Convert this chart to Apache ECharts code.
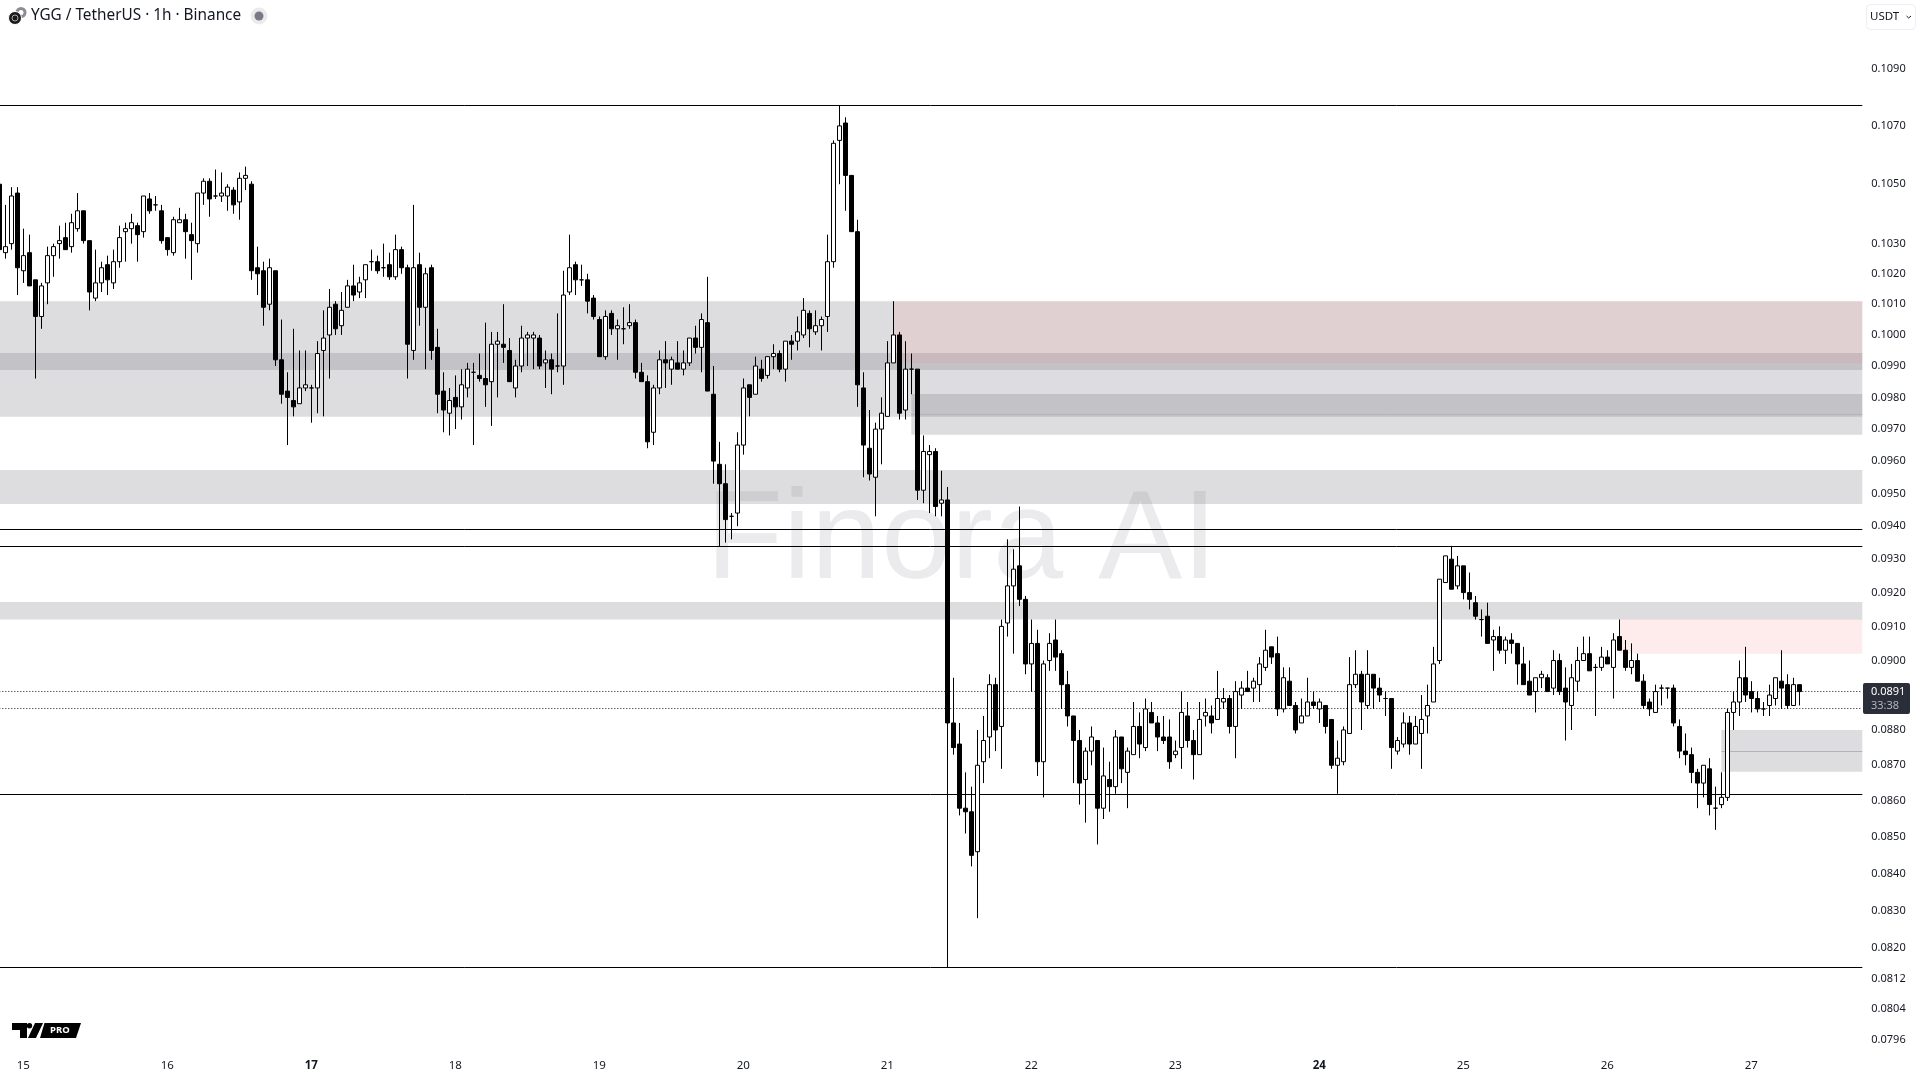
<!DOCTYPE html>
<html><head><meta charset="utf-8"><style>html,body{margin:0;padding:0;background:#fff}#c{width:1920px;height:1080px}</style>
<script src="https://cdn.jsdelivr.net/npm/echarts@6/dist/echarts.min.js"></script></head><body><div id="c"></div>
<script>
const dayLabels = ['15','16','17','18','19','20','21','22','23','24','25','26','27'];
const boldDays = ['17','24'];
const firstDayIndex = 4, candlesPerDay = 24, slotCount = 311;
const priceTicks = [0.1090,0.1070,0.1050,0.1030,0.1020,0.1010,0.1000,0.0990,0.0980,0.0970,0.0960,0.0950,0.0940,0.0930,0.0920,0.0910,0.0900,0.0880,0.0870,0.0860,0.0850,0.0840,0.0830,0.0820,0.0812,0.0804,0.0796];
const opens = [
0.1050,0.1027,0.1030,0.1047,0.1021,0.1027,0.1018,0.1006,0.1017,0.1026,
0.1030,0.1032,0.1029,0.1035,0.1041,0.1031,0.1012,0.1017,0.1023,0.1017,
0.1024,0.1034,0.1035,0.1036,0.1034,0.1045,0.1043,0.1041,0.1032,0.1027,
0.1037,0.1038,0.1033,0.1030,0.1047,0.1051,0.1046,0.1046,0.1046,0.1048,
0.1044,0.1052,0.1050,0.1022,0.1021,0.1010,0.1021,0.0992,0.0982,0.0979,
0.0978,0.0983,0.0983,0.0983,0.0995,0.1000,0.1010,0.1003,0.1009,0.1016,
0.1014,0.1018,0.1024,0.1024,0.1022,0.1023,0.1019,0.1028,0.1022,0.0995,
0.1023,0.1009,0.1022,0.0996,0.0982,0.0975,0.0980,0.0977,0.0983,0.0988,
0.0987,0.0986,0.0985,0.0997,0.0997,0.0995,0.0983,0.0990,0.0999,0.0999,
0.0999,0.0991,0.0992,0.0990,0.0990,0.1014,0.1023,0.1018,0.1018,0.1012,
0.1005,0.0993,0.1007,0.1002,0.1002,0.1003,0.1004,0.0988,0.0985,0.0969,
0.0983,0.0992,0.0989,0.0991,0.0989,0.0991,0.0999,0.0996,0.1004,0.0981,
0.0959,0.0953,0.0943,0.0944,0.0965,0.0984,0.0981,0.0989,0.0987,0.0993,
0.0994,0.0989,0.0998,0.0998,0.1000,0.1007,0.1001,0.1003,0.1006,0.1024,
0.1065,0.1071,0.1053,0.1034,0.0983,0.0964,0.0955,0.0970,0.0974,0.0991,
0.1000,0.0976,0.0989,0.0989,0.0951,0.0962,0.0963,0.0947,0.0948,0.0882,
0.0876,0.0858,0.0857,0.0846,0.0871,0.0878,0.0893,0.0881,0.0911,0.0922,
0.0928,0.0918,0.0899,0.0905,0.0871,0.0900,0.0906,0.0902,0.0893,0.0884,
0.0877,0.0866,0.0874,0.0877,0.0858,0.0866,0.0864,0.0878,0.0868,0.0873,
0.0881,0.0875,0.0885,0.0882,0.0878,0.0878,0.0873,0.0875,0.0884,0.0877,
0.0873,0.0884,0.0884,0.0883,0.0888,0.0889,0.0881,0.0890,0.0892,0.0892,
0.0893,0.0898,0.0904,0.0902,0.0886,0.0894,0.0887,0.0882,0.0884,0.0888,
0.0886,0.0887,0.0883,0.0870,0.0871,0.0879,0.0893,0.0896,0.0887,0.0896,
0.0892,0.0889,0.0889,0.0874,0.0876,0.0882,0.0876,0.0879,0.0884,0.0888,
0.0900,0.0923,0.0930,0.0922,0.0928,0.0920,0.0917,0.0912,0.0913,0.0906,
0.0907,0.0903,0.0906,0.0905,0.0899,0.0894,0.0891,0.0895,0.0895,0.0892,
0.0900,0.0892,0.0887,0.0894,0.0900,0.0902,0.0898,0.0898,0.0901,0.0898,
0.0907,0.0903,0.0898,0.0900,0.0894,0.0888,0.0885,0.0892,0.0892,0.0892,
0.0881,0.0874,0.0873,0.0868,0.0865,0.0869,0.0858,0.0859,0.0861,0.0885,
0.0888,0.0895,0.0891,0.0889,0.0886,0.0887,0.0889,0.0894,0.0893,0.0887,0.0893];
const closes = [
0.1028,0.1029,0.1046,0.1022,0.1026,0.1016,0.1006,0.1016,0.1026,0.1029,
0.1031,0.1028,0.1037,0.1041,0.1031,0.1014,0.1017,0.1022,0.1018,0.1024,
0.1032,0.1035,0.1037,0.1033,0.1046,0.1041,0.1043,0.1031,0.1028,0.1038,
0.1038,0.1034,0.1031,0.1047,0.1051,0.1045,0.1046,0.1047,0.1049,0.1043,
0.1052,0.1053,0.1021,0.1020,0.1009,0.1022,0.0992,0.0981,0.0980,0.0977,
0.0983,0.0984,0.0983,0.0994,0.0999,0.1009,0.1002,0.1008,0.1016,0.1013,
0.1017,0.1023,0.1024,0.1021,0.1022,0.1019,0.1028,0.1022,0.0997,0.1022,
0.1009,0.1020,0.0995,0.0981,0.0976,0.0979,0.0977,0.0984,0.0989,0.0988,
0.0986,0.0984,0.0997,0.0998,0.0996,0.0985,0.0990,0.0999,0.1000,0.1000,
0.0990,0.0992,0.0989,0.0990,0.1013,0.1022,0.1018,0.1018,0.1011,0.1006,
0.0993,0.1006,0.1002,0.1003,0.1002,0.1004,0.0988,0.0985,0.0966,0.0983,
0.0992,0.0991,0.0992,0.0989,0.0991,0.0999,0.0996,0.1005,0.0982,0.0960,
0.0953,0.0942,0.0943,0.0965,0.0983,0.0980,0.0990,0.0986,0.0993,0.0994,
0.0989,0.0998,0.0997,0.1001,0.1008,0.1002,0.1003,0.1005,0.1024,0.1064,
0.1070,0.1053,0.1034,0.0984,0.0965,0.0956,0.0970,0.0975,0.0991,0.1000,
0.0975,0.0989,0.0989,0.0951,0.0963,0.0963,0.0946,0.0948,0.0882,0.0875,
0.0858,0.0857,0.0845,0.0870,0.0877,0.0893,0.0880,0.0910,0.0922,0.0927,
0.0918,0.0899,0.0905,0.0871,0.0899,0.0905,0.0901,0.0893,0.0884,0.0877,
0.0865,0.0874,0.0878,0.0858,0.0867,0.0864,0.0878,0.0869,0.0874,0.0881,
0.0876,0.0886,0.0882,0.0878,0.0877,0.0871,0.0874,0.0885,0.0877,0.0873,
0.0883,0.0885,0.0882,0.0889,0.0889,0.0881,0.0891,0.0892,0.0891,0.0894,
0.0899,0.0903,0.0901,0.0886,0.0895,0.0887,0.0880,0.0884,0.0888,0.0887,
0.0888,0.0881,0.0870,0.0872,0.0880,0.0893,0.0896,0.0888,0.0896,0.0892,
0.0890,0.0889,0.0875,0.0877,0.0882,0.0876,0.0881,0.0883,0.0887,0.0899,
0.0924,0.0931,0.0921,0.0928,0.0920,0.0918,0.0913,0.0912,0.0905,0.0907,
0.0903,0.0906,0.0905,0.0899,0.0893,0.0890,0.0895,0.0896,0.0891,0.0900,
0.0891,0.0888,0.0895,0.0900,0.0902,0.0897,0.0898,0.0901,0.0899,0.0906,
0.0903,0.0898,0.0900,0.0894,0.0887,0.0886,0.0891,0.0892,0.0892,0.0882,
0.0874,0.0873,0.0868,0.0865,0.0870,0.0859,0.0858,0.0861,0.0885,0.0888,
0.0895,0.0890,0.0889,0.0886,0.0886,0.0890,0.0895,0.0892,0.0887,0.0893,0.0891];
const lows = [
0.1026,0.1025,0.1028,0.1013,0.1017,0.1016,0.0986,0.1002,0.1010,0.1019,
0.1025,0.1028,0.1027,0.1034,0.1030,0.1008,0.1011,0.1014,0.1013,0.1015,
0.1022,0.1024,0.1030,0.1024,0.1032,0.1040,0.1041,0.1030,0.1026,0.1026,
0.1037,0.1025,0.1018,0.1027,0.1043,0.1039,0.1045,0.1044,0.1041,0.1040,
0.1038,0.1048,0.1018,0.1013,0.1003,0.1008,0.0990,0.0978,0.0965,0.0974,
0.0978,0.0982,0.0972,0.0975,0.0974,0.0986,0.1000,0.1000,0.1009,0.1011,
0.1012,0.1012,0.1021,0.1020,0.1019,0.1018,0.1018,0.1020,0.0986,0.0992,
0.1003,0.0989,0.0992,0.0975,0.0969,0.0968,0.0970,0.0973,0.0980,0.0965,
0.0985,0.0977,0.0971,0.0980,0.0991,0.0985,0.0980,0.0988,0.0990,0.0989,
0.0989,0.0983,0.0981,0.0988,0.0984,0.1013,0.1013,0.1016,0.1007,0.1005,
0.0993,0.0992,0.1000,0.0992,0.0997,0.1002,0.0986,0.0985,0.0964,0.0965,
0.0981,0.0983,0.0984,0.0989,0.0987,0.0990,0.0994,0.0988,0.0982,0.0953,
0.0934,0.0935,0.0936,0.0940,0.0962,0.0974,0.0981,0.0985,0.0986,0.0989,
0.0988,0.0985,0.0992,0.0995,0.0999,0.0996,0.1000,0.0995,0.1001,0.1022,
0.1050,0.1041,0.1034,0.0977,0.0955,0.0954,0.0943,0.0959,0.0974,0.0991,
0.0973,0.0973,0.0981,0.0948,0.0947,0.0944,0.0943,0.0943,0.0815,0.0873,
0.0856,0.0851,0.0842,0.0828,0.0865,0.0872,0.0874,0.0869,0.0907,0.0902,
0.0916,0.0896,0.0891,0.0867,0.0861,0.0897,0.0897,0.0886,0.0881,0.0865,
0.0859,0.0854,0.0870,0.0848,0.0855,0.0857,0.0862,0.0865,0.0858,0.0873,
0.0872,0.0874,0.0882,0.0874,0.0876,0.0869,0.0872,0.0869,0.0875,0.0866,
0.0873,0.0881,0.0879,0.0883,0.0886,0.0879,0.0872,0.0886,0.0891,0.0888,
0.0888,0.0897,0.0899,0.0884,0.0885,0.0887,0.0879,0.0882,0.0884,0.0886,
0.0882,0.0879,0.0869,0.0862,0.0870,0.0879,0.0892,0.0880,0.0886,0.0886,
0.0888,0.0884,0.0869,0.0873,0.0875,0.0873,0.0876,0.0869,0.0879,0.0888,
0.0899,0.0923,0.0921,0.0921,0.0918,0.0915,0.0912,0.0907,0.0905,0.0897,
0.0902,0.0899,0.0902,0.0893,0.0893,0.0890,0.0885,0.0892,0.0891,0.0890,
0.0890,0.0877,0.0880,0.0891,0.0900,0.0897,0.0884,0.0897,0.0899,0.0889,
0.0903,0.0897,0.0896,0.0894,0.0886,0.0884,0.0885,0.0887,0.0889,0.0881,
0.0872,0.0870,0.0865,0.0858,0.0861,0.0856,0.0852,0.0858,0.0860,0.0880,
0.0884,0.0888,0.0885,0.0885,0.0884,0.0884,0.0887,0.0886,0.0886,0.0887,0.0887];
const highs = [
0.1051,0.1043,0.1049,0.1049,0.1035,0.1033,0.1018,0.1017,0.1029,0.1030,
0.1036,0.1037,0.1040,0.1047,0.1041,0.1031,0.1028,0.1024,0.1026,0.1028,
0.1036,0.1037,0.1040,0.1037,0.1046,0.1047,0.1046,0.1043,0.1032,0.1039,
0.1042,0.1040,0.1037,0.1047,0.1052,0.1052,0.1055,0.1054,0.1050,0.1049,
0.1054,0.1056,0.1051,0.1029,0.1024,0.1025,0.1021,0.1005,0.0988,0.1002,
0.0995,0.0995,0.0984,0.0998,0.1008,0.1015,0.1011,0.1014,0.1018,0.1023,
0.1019,0.1023,0.1028,0.1026,0.1030,0.1027,0.1033,0.1029,0.1023,0.1043,
0.1027,0.1022,0.1023,0.1002,0.0988,0.0983,0.0987,0.0989,0.0991,0.0991,
0.0994,0.1004,0.1001,0.1001,0.1010,0.0999,0.0992,0.1003,0.1001,0.1001,
0.1000,0.0995,0.0994,0.1007,0.1021,0.1033,0.1024,0.1023,0.1020,0.1013,
0.1006,0.1008,0.1008,0.1005,0.1009,0.1010,0.1005,0.0991,0.0987,0.0984,
0.0995,0.0998,0.0993,0.0998,0.0995,0.0999,0.1003,0.1007,0.1019,0.0990,
0.0966,0.0959,0.0944,0.0969,0.0986,0.0984,0.0993,0.0992,0.0993,0.0997,
0.0995,0.0998,0.1000,0.1006,0.1012,0.1008,0.1008,0.1006,0.1033,0.1065,
0.1077,0.1073,0.1053,0.1038,0.0988,0.0976,0.0972,0.0980,0.0998,0.1011,
0.1001,0.0998,0.0994,0.0989,0.0968,0.0965,0.0964,0.0957,0.0952,0.0895,
0.0882,0.0868,0.0864,0.0880,0.0884,0.0896,0.0895,0.0912,0.0936,0.0933,
0.0946,0.0919,0.0912,0.0909,0.0900,0.0908,0.0912,0.0903,0.0897,0.0884,
0.0880,0.0875,0.0881,0.0877,0.0875,0.0871,0.0880,0.0878,0.0875,0.0888,
0.0885,0.0889,0.0888,0.0884,0.0884,0.0883,0.0877,0.0891,0.0888,0.0880,
0.0888,0.0889,0.0887,0.0897,0.0892,0.0890,0.0894,0.0894,0.0897,0.0895,
0.0901,0.0909,0.0904,0.0907,0.0898,0.0898,0.0888,0.0889,0.0895,0.0891,
0.0889,0.0887,0.0883,0.0877,0.0881,0.0901,0.0903,0.0897,0.0903,0.0896,
0.0895,0.0891,0.0889,0.0878,0.0885,0.0884,0.0884,0.0890,0.0893,0.0904,
0.0924,0.0931,0.0934,0.0931,0.0928,0.0926,0.0919,0.0915,0.0917,0.0909,
0.0910,0.0907,0.0908,0.0905,0.0904,0.0900,0.0895,0.0897,0.0896,0.0903,
0.0902,0.0898,0.0899,0.0904,0.0907,0.0907,0.0899,0.0904,0.0903,0.0908,
0.0912,0.0906,0.0905,0.0902,0.0896,0.0889,0.0893,0.0893,0.0892,0.0893,
0.0883,0.0879,0.0875,0.0869,0.0870,0.0872,0.0864,0.0868,0.0886,0.0891,
0.0900,0.0904,0.0894,0.0891,0.0888,0.0893,0.0895,0.0903,0.0896,0.0895,0.0893];
const solidLevels = [0.10772,0.09391,0.09339,0.08618,0.0815];
const dottedLevels = [0.08911,0.0886];
// [top, bottom] price, optional first slot
const greyZones = [[0.1011,0.09739,null],[0.09942,0.09887,null],[0.09811,0.09682,152],[0.09572,0.09468,null],[0.09172,0.0912,null],[0.088,0.08682,287]];
const upperRedZone = [0.1011,0.09909,149];
const lowerRedZone = [0.09121,0.0902,270];
const midLevels = [[0.09746,152],[0.08739,287]];

const categories = Array.from({length: slotCount}, (_, i) => {
  const k = i - firstDayIndex;
  return k >= 0 && k % candlesPerDay === 0 ? (dayLabels[k / candlesPerDay] || '') : '';
});
const candles = opens.map((o, i) => [o, closes[i], lows[i], highs[i]]);
const zone = (z, color) => {
  const st = {itemStyle: {color}};
  return z[2] === null ? [{yAxis: z[0], ...st}, {yAxis: z[1]}] : [{xAxis: z[2], yAxis: z[0], ...st}, {yAxis: z[1]}];
};
const lineStyles = {
  solid: {stroke: '#000000', lineWidth: 1},
  dotted: {stroke: '#131722', lineWidth: 1, lineDash: [1, 2]},
  mid: {stroke: '#b4b2ba', lineWidth: 1}
};
const levelRows = solidLevels.map(v => [0, v, 'solid'])
  .concat(dottedLevels.map(v => [0, v, 'dotted']))
  .concat(midLevels.map(m => [m[1], m[0], 'mid']));
const FONT = '"Noto Sans", sans-serif';
const chart = echarts.init(document.getElementById('c'), null, {renderer: 'canvas'});
const poly = (points, fill) => ({type: 'polygon', z: 50, silent: true, shape: {points}, style: {fill}});
chart.setOption({
  animation: false,
  backgroundColor: '#ffffff',
  grid: {left: -3.7, top: 0, width: 1866, height: 1052, containLabel: false, outerBoundsMode: 'none'},
  xAxis: {type: 'category', data: categories, boundaryGap: true,
    axisLine: {show: false}, axisTick: {show: false}, splitLine: {show: false},
    axisLabel: {interval: (i, v) => v !== '', margin: 8, fontSize: 11.5, fontFamily: FONT, color: '#131722',
      formatter: v => boldDays.includes(v) ? '{b|' + v + '}' : v,
      rich: {b: {fontWeight: 'bold', fontSize: 11.5, fontFamily: FONT, color: '#131722'}}}},
  yAxis: {type: 'log', logBase: 10, min: 0.07929, max: 0.11145, position: 'right', scale: true,
    axisLine: {show: false}, axisTick: {show: false}, splitLine: {show: false}, minorTick: {show: false}, minorSplitLine: {show: false},
    axisLabel: {customValues: priceTicks, margin: 9, padding: [2, 0, 0, 0], fontSize: 11, fontFamily: FONT, color: '#131722', formatter: v => (+v).toFixed(4)}},
  series: [
    {type: 'line', data: [], z: 1, silent: true,
      markArea: {silent: true, z: 1, label: {show: false},
        data: greyZones.map(z => zone(z, 'rgba(120,120,128,0.25)'))
          .concat([zone(upperRedZone, 'rgba(255,100,95,0.1)'), zone(lowerRedZone, 'rgba(242,54,69,0.1)')])}},
    {type: 'custom', z: 2, silent: true, data: levelRows, encode: {x: 0, y: 1}, clip: false,
      renderItem: (params, api) => {
        const start = api.value(0), cs = params.coordSys;
        const p = api.coord([start, api.value(1)]);
        const x1 = start === 0 ? cs.x : p[0];
        const y = Math.floor(p[1]) + 0.5;
        return {type: 'line', shape: {x1, y1: y, x2: cs.x + cs.width, y2: y}, style: {...lineStyles[levelRows[params.dataIndex][2]], fill: null}};
      }},
    {type: 'candlestick', data: candles, z: 3, barWidth: 4, silent: true,
      itemStyle: {color: '#ffffff', color0: '#000000', borderColor: '#000000', borderColor0: '#000000', borderColorDoji: '#000000', borderWidth: 1}}
  ],
  graphic: {elements: [
    {type: 'text', z: 0, silent: true, style: {text: 'Finora AI', x: 706, y: 543, font: '126px "Liberation Sans", Arial, sans-serif', fill: 'rgba(120,123,134,0.15)', textVerticalAlign: 'middle'}},
    {type: 'circle', z: 50, silent: true, shape: {cx: 21, cy: 12.5, r: 5.5}, style: {fill: '#8a8d96'}},
    {type: 'circle', z: 50, silent: true, shape: {cx: 21, cy: 12.5, r: 2.5}, style: {fill: '#fff'}},
    {type: 'circle', z: 51, silent: true, shape: {cx: 15, cy: 18, r: 6.5}, style: {fill: '#1a1a1a', stroke: '#fff', lineWidth: 1}},
    {type: 'circle', z: 52, silent: true, shape: {cx: 15, cy: 18, r: 3}, style: {fill: '#1a1a1a', stroke: '#aaa', lineWidth: 1}},
    {type: 'text', z: 50, silent: true, style: {text: 'YGG / TetherUS · 1h · Binance', x: 31, y: 16, font: '15.35px "Noto Sans", sans-serif', fill: '#131722', textVerticalAlign: 'middle'}},
    {type: 'circle', z: 50, silent: true, shape: {cx: 259, cy: 16, r: 8.5}, style: {fill: '#ebebec'}},
    {type: 'circle', z: 51, silent: true, shape: {cx: 259, cy: 16, r: 4.5}, style: {fill: '#787b86'}},
    {type: 'rect', z: 50, silent: true, shape: {x: 1866.5, y: 4.5, width: 49, height: 25, r: 4}, style: {fill: '#fff', stroke: '#eceef3', lineWidth: 1}},
    {type: 'text', z: 51, silent: true, style: {text: 'USDT', x: 1870, y: 17, font: '11.5px "Noto Sans", sans-serif', fill: '#131722', textVerticalAlign: 'middle'}},
    {type: 'polyline', z: 51, silent: true, shape: {points: [[1906.5, 16], [1908.7, 18], [1911, 16]]}, style: {stroke: '#131722', lineWidth: 1, fill: 'none'}},
    {type: 'rect', z: 50, silent: true, shape: {x: 1863, y: 683, width: 47, height: 31, r: 2}, style: {fill: '#2a2e39'}},
    {type: 'text', z: 51, silent: true, style: {text: '0.0891', x: 1871, y: 691.5, font: '11px "Noto Sans", sans-serif', fill: '#ffffff', textVerticalAlign: 'middle'}},
    {type: 'text', z: 51, silent: true, style: {text: '33:38', x: 1871, y: 705.5, font: '11px "Noto Sans", sans-serif', fill: '#b2b5be', textVerticalAlign: 'middle'}},
    poly([[12, 1023], [27, 1023], [27, 1038], [20, 1038], [20, 1030], [12, 1030]], '#000'),
    {type: 'circle', z: 50, silent: true, shape: {cx: 29.5, cy: 1025.7, r: 2.7}, style: {fill: '#000'}},
    poly([[35, 1023], [43, 1023], [36, 1038], [28, 1038]], '#000'),
    poly([[44.5, 1023], [81, 1023], [76, 1038], [40, 1038]], '#000'),
    {type: 'text', z: 51, silent: true, style: {text: 'PRO', x: 50, y: 1030.5, font: 'bold 9.5px "Noto Sans", sans-serif', fill: '#ffffff', textVerticalAlign: 'middle'}}
  ]}
});
</script></body></html>
